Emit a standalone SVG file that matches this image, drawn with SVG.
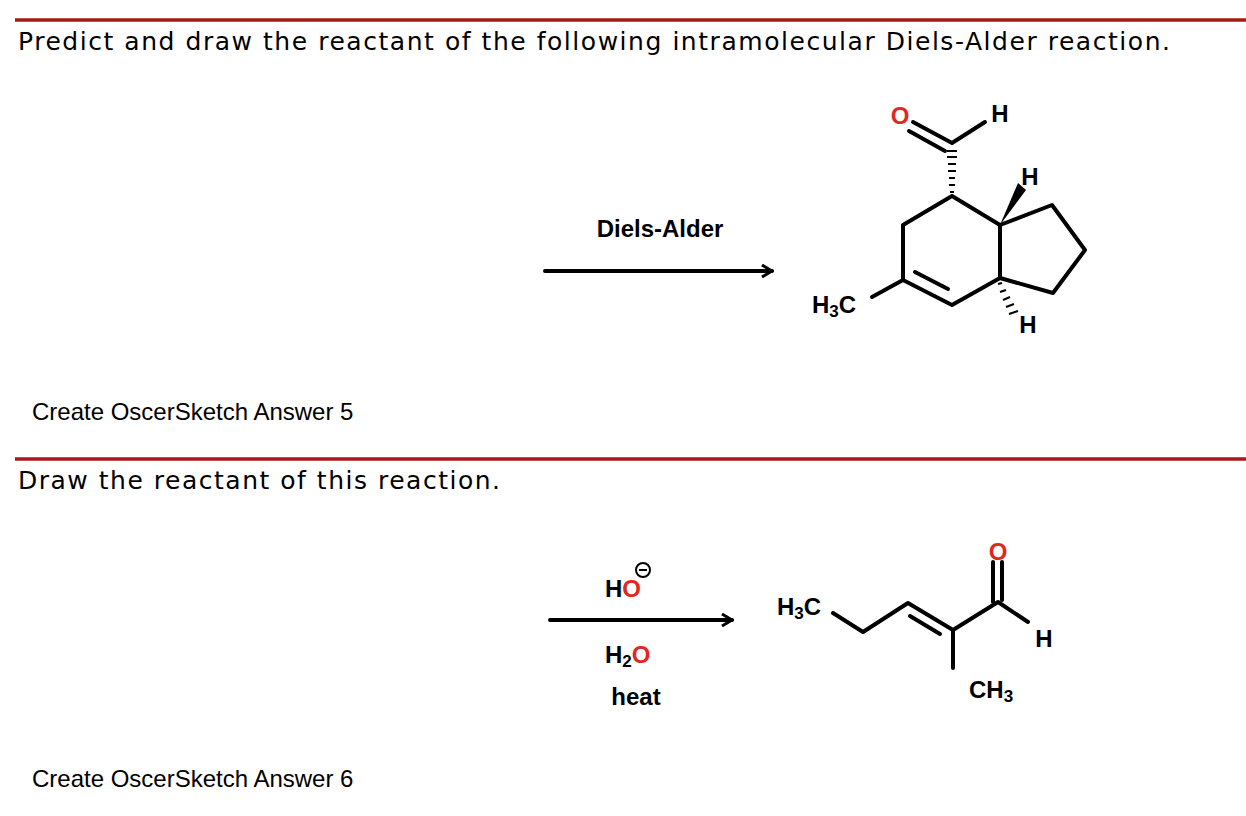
<svg xmlns="http://www.w3.org/2000/svg" width="1246" height="816" viewBox="0 0 1246 816">
<style>
.h{font-family:"DejaVu Sans",Verdana,sans-serif;font-size:25px;fill:#000}
.c{font-family:"Liberation Sans",Arial,sans-serif;font-size:24px;fill:#000}
.a{font-family:"Liberation Sans",Arial,sans-serif;font-size:24px;font-weight:bold;fill:#000}
.o{fill:#e0281e}
.b{stroke:#000;stroke-width:4;fill:none;stroke-linecap:round;stroke-linejoin:round}
.r{stroke:#a31b17;stroke-width:3.5}
</style>
<defs>
<marker id="ah" markerWidth="14" markerHeight="14" refX="12" refY="7" orient="auto" markerUnits="userSpaceOnUse">
<path d="M2,1 L12,7 L2,13" fill="none" stroke="#000" stroke-width="3"/>
</marker>
</defs>
<rect width="1246" height="816" fill="#fff"/>
<line class="r" x1="15" y1="20" x2="1246" y2="20"/>
<line class="r" x1="15" y1="459" x2="1246" y2="459"/>
<text class="h" x="18" y="50" textLength="1152">Predict and draw the reactant of the following intramolecular Diels-Alder reaction.</text>
<text class="h" x="18" y="489" textLength="482">Draw the reactant of this reaction.</text>
<text class="c" x="32" y="420">Create OscerSketch Answer 5</text>
<text class="c" x="32" y="787">Create OscerSketch Answer 6</text>

<g id="connectors">
<line class="b" x1="545" y1="271" x2="772" y2="271" stroke-width="3.5" marker-end="url(#ah)"/>
<line class="b" x1="550" y1="620" x2="732" y2="620" stroke-width="3.5" marker-end="url(#ah)"/>
</g>

<g id="label1"><text class="a" x="660" y="237" text-anchor="middle">Diels-Alder</text></g>
<g id="label2">
<text class="a" x="605" y="597">H<tspan class="o">O</tspan></text>
<circle cx="643" cy="570" r="7" fill="#fff" stroke="#000" stroke-width="2"/>
<line x1="639" y1="570" x2="647" y2="570" stroke="#000" stroke-width="2"/>
<text class="a" x="605" y="663">H<tspan font-size="17" dy="4">2</tspan><tspan class="o" dy="-4">O</tspan></text>
<text class="a" x="636" y="705" text-anchor="middle">heat</text>
</g>

<g id="product1">
<path class="b" d="M952,196 L903,225 L903,280 L952,305 L1000,278 L1000,225 Z"/>
<path class="b" d="M1000,225 L1052,205 L1085,250 L1053,293 L1000,278"/>
<line class="b" x1="915" y1="272" x2="948" y2="289"/>
<line class="b" x1="872" y1="297" x2="903" y2="280"/>
<path class="b" d="M913,122 L952,143 L985,122"/>
<line class="b" x1="909" y1="131" x2="945" y2="151"/>
<g stroke="#000" stroke-width="2">
<line x1="950" y1="192" x2="954" y2="192"/><line x1="949" y1="185" x2="955" y2="185"/><line x1="949" y1="178" x2="955" y2="178"/><line x1="948" y1="171" x2="956" y2="171"/><line x1="948" y1="164" x2="956" y2="164"/><line x1="947" y1="157" x2="957" y2="157"/><line x1="947" y1="151" x2="957" y2="151"/>
<line x1="1002" y1="283" x2="998" y2="284"/><line x1="1006" y1="290" x2="1000" y2="292"/><line x1="1010" y1="297" x2="1003" y2="300"/><line x1="1014" y1="304" x2="1006" y2="307"/><line x1="1018" y1="311" x2="1009" y2="314"/>
</g>
<polygon points="1000,225 1018,183 1026,190" fill="#000"/>
<text class="a" x="900" y="124" text-anchor="middle"><tspan class="o">O</tspan></text>
<text class="a" x="1000" y="122" text-anchor="middle">H</text>
<text class="a" x="1030" y="185" text-anchor="middle">H</text>
<text class="a" x="1028" y="333" text-anchor="middle">H</text>
<text class="a" x="812" y="313">H<tspan font-size="17" dy="4">3</tspan><tspan dy="-4">C</tspan></text>
</g>

<g id="product2">
<path class="b" d="M833,613 L863,632 L908,603 L953,630 L998,602 L1028,622"/>
<line class="b" x1="910" y1="616" x2="940" y2="634"/>
<line class="b" x1="953" y1="630" x2="953" y2="668"/>
<line class="b" x1="993" y1="562" x2="993" y2="602"/>
<line class="b" x1="1002" y1="562" x2="1002" y2="600"/>
<text class="a" x="998" y="560" text-anchor="middle"><tspan class="o">O</tspan></text>
<text class="a" x="1044" y="647" text-anchor="middle">H</text>
<text class="a" x="777" y="615">H<tspan font-size="17" dy="4">3</tspan><tspan dy="-4">C</tspan></text>
<text class="a" x="969" y="698">CH<tspan font-size="17" dy="4">3</tspan></text>
</g>
</svg>
